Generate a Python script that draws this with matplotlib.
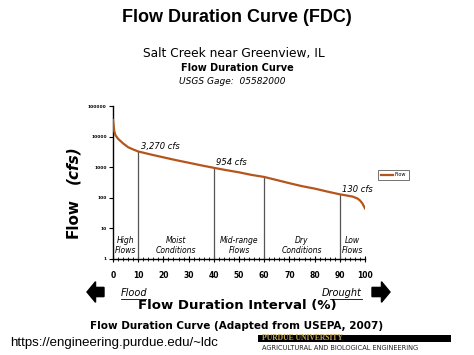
import matplotlib
matplotlib.use("Agg")
import matplotlib.pyplot as plt
import numpy as np
from matplotlib.ticker import FixedLocator, LogLocator, NullFormatter
from matplotlib.patches import FancyArrow, Rectangle

# ---- data ----
percent = [0, 0.5, 1, 2, 4, 6, 8, 10, 15, 20, 25, 30, 35, 40, 45, 50, 55, 60,
           65, 70, 75, 80, 85, 90, 95, 97, 98, 99, 100]
flow = [35000, 15000, 11000, 8500, 6000, 4500, 3800, 3270, 2600, 2100, 1700,
        1400, 1150, 954, 800, 680, 560, 480, 380, 300, 240, 200, 160, 130,
        110, 95, 82, 65, 45]
divider_pct = [10, 40, 60, 90]
divider_flow = [3270, 954, 480, 130]
annot_pct = [10, 40, 90]
annot_text = ["3,270 cfs", "954 cfs", "130 cfs"]
annot_flow = [3270, 954, 130]
zone_center = [5, 25, 50, 75, 95]
zone_line1 = ["High", "Moist", "Mid-range", "Dry", "Low"]
zone_line2 = ["Flows", "Conditions", "Flows", "Conditions", "Flows"]
xticks = list(range(0, 101, 10))
yticks = [1, 10, 100, 1000, 10000, 100000]
ytick_labels = ["1", "10", "100", "1000", "10000", "100000"]

curve_color = "#b4561c"
W, H = 474, 355
fig = plt.figure(figsize=(W / 100, H / 100), dpi=100)
fig.patch.set_facecolor("white")

def fx(px):
    return px / W

def fy(py):
    return 1 - py / H

ax = fig.add_axes([fx(113), fy(259), fx(365) - fx(113), fy(106) - fy(259)])
ax.plot(percent, flow, color=curve_color, lw=1.6, label="Flow", zorder=3)
ax.vlines(divider_pct, 1, divider_flow, colors="#555555", lw=0.9, zorder=2)
ax.set_yscale("log")
ax.set_ylim(1, 100000)
ax.set_xlim(0, 100)
for s in ["top", "right"]:
    ax.spines[s].set_visible(False)
ax.spines["left"].set_linewidth(1.0)
ax.spines["bottom"].set_linewidth(1.0)
ax.set_xticks(xticks)
ax.set_xticklabels([str(t) for t in xticks], fontsize=5.5, fontweight="bold")
ax.xaxis.set_minor_locator(FixedLocator(np.arange(0, 101, 2)))
ax.tick_params(axis="x", which="major", direction="inout", length=5, width=0.8, pad=6)
ax.tick_params(axis="x", which="minor", direction="inout", length=2.5, width=0.6)
ax.set_yticks(yticks)
ax.set_yticklabels(ytick_labels, fontsize=3.2, fontweight="bold")
ax.yaxis.set_minor_locator(LogLocator(base=10, subs=np.arange(2, 10)))
ax.yaxis.set_minor_formatter(NullFormatter())
ax.tick_params(axis="y", which="major", direction="out", length=3, width=0.8, pad=1.5)
ax.tick_params(axis="y", which="minor", direction="out", length=1.5, width=0.4)

# annotations
for p, t, v in zip(annot_pct, annot_text, annot_flow):
    ax.text(p + 1, v * 1.05, t, fontsize=6, style="italic", ha="left", va="bottom")
for c, a, b in zip(zone_center, zone_line1, zone_line2):
    ax.text(c, 3.9, a, fontsize=5.5, style="italic", ha="center", va="center")
    ax.text(c, 1.85, b, fontsize=5.5, style="italic", ha="center", va="center")

leg = ax.legend(loc="upper left", bbox_to_anchor=(fx(378), fy(170)),
                bbox_transform=fig.transFigure,
                fontsize=3.6, frameon=True, fancybox=False, handlelength=2.4,
                borderpad=0.5, handletextpad=0.4, borderaxespad=0)
leg.get_frame().set_edgecolor("#333333")
leg.get_frame().set_linewidth(0.6)

# titles
fig.text(0.5, fy(18), "Flow Duration Curve (FDC)", ha="center", va="center",
         fontsize=13, fontweight="bold", family="Liberation Sans")
fig.text(fx(234), fy(53), "Salt Creek near Greenview, IL", ha="center", va="center", fontsize=8.8)
fig.text(fx(237), fy(68), "Flow Duration Curve", ha="center", va="center", fontsize=7, fontweight="bold")
fig.text(fx(232), fy(82), "USGS Gage:  05582000", ha="center", va="center", fontsize=6.5, style="italic")

# y label: "Flow" upright bold, "(cfs)" bold italic
fig.text(fx(73), fy(218), "Flow", rotation=90, ha="center", va="center",
         fontsize=11, fontweight="bold")
fig.text(fx(73), fy(165), "(cfs)", rotation=90, ha="center", va="center",
         fontsize=11, fontweight="bold", style="italic")

# bottom arrows and labels
fig.patches.append(FancyArrow(fx(104), fy(292), fx(87) - fx(104), 0, width=0.026,
                              head_width=0.058, head_length=0.018, color="black",
                              length_includes_head=True, transform=fig.transFigure))
fig.patches.append(FancyArrow(fx(372), fy(292), fx(390) - fx(372), 0, width=0.026,
                              head_width=0.058, head_length=0.018, color="black",
                              length_includes_head=True, transform=fig.transFigure))
fig.text(fx(121), fy(293), "Flood", ha="left", va="center", fontsize=7, style="italic")
fig.add_artist(plt.Line2D([fx(121), fx(146)], [fy(299), fy(299)], color="black", lw=0.6))
fig.text(fx(362), fy(293), "Drought", ha="right", va="center", fontsize=7, style="italic")
fig.add_artist(plt.Line2D([fx(330), fx(362)], [fy(299), fy(299)], color="black", lw=0.6))
fig.text(fx(237), fy(306), "Flow Duration Interval (%)", ha="center", va="center",
         fontsize=9.5, fontweight="bold")

# caption & footer
fig.text(0.5, fy(326), "Flow Duration Curve (Adapted from USEPA, 2007)", ha="center",
         va="center", fontsize=7.5, fontweight="bold")
fig.text(fx(10), fy(343), "https://engineering.purdue.edu/~ldc", ha="left", va="center",
         fontsize=9.5, family="Liberation Sans")
fig.patches.append(Rectangle((fx(258), fy(342)), fx(451) - fx(258), fy(335) - fy(342),
                             facecolor="black", edgecolor="none", transform=fig.transFigure))
fig.text(fx(262), fy(338.5), "PURDUE UNIVERSITY", ha="left", va="center", fontsize=5.5,
         fontweight="bold", color="#c9a84c", family="Liberation Serif")
fig.text(fx(262), fy(348), "AGRICULTURAL AND BIOLOGICAL ENGINEERING", ha="left", va="center",
         fontsize=4.8, color="#222222")

fig.savefig("out.png", dpi=100)
